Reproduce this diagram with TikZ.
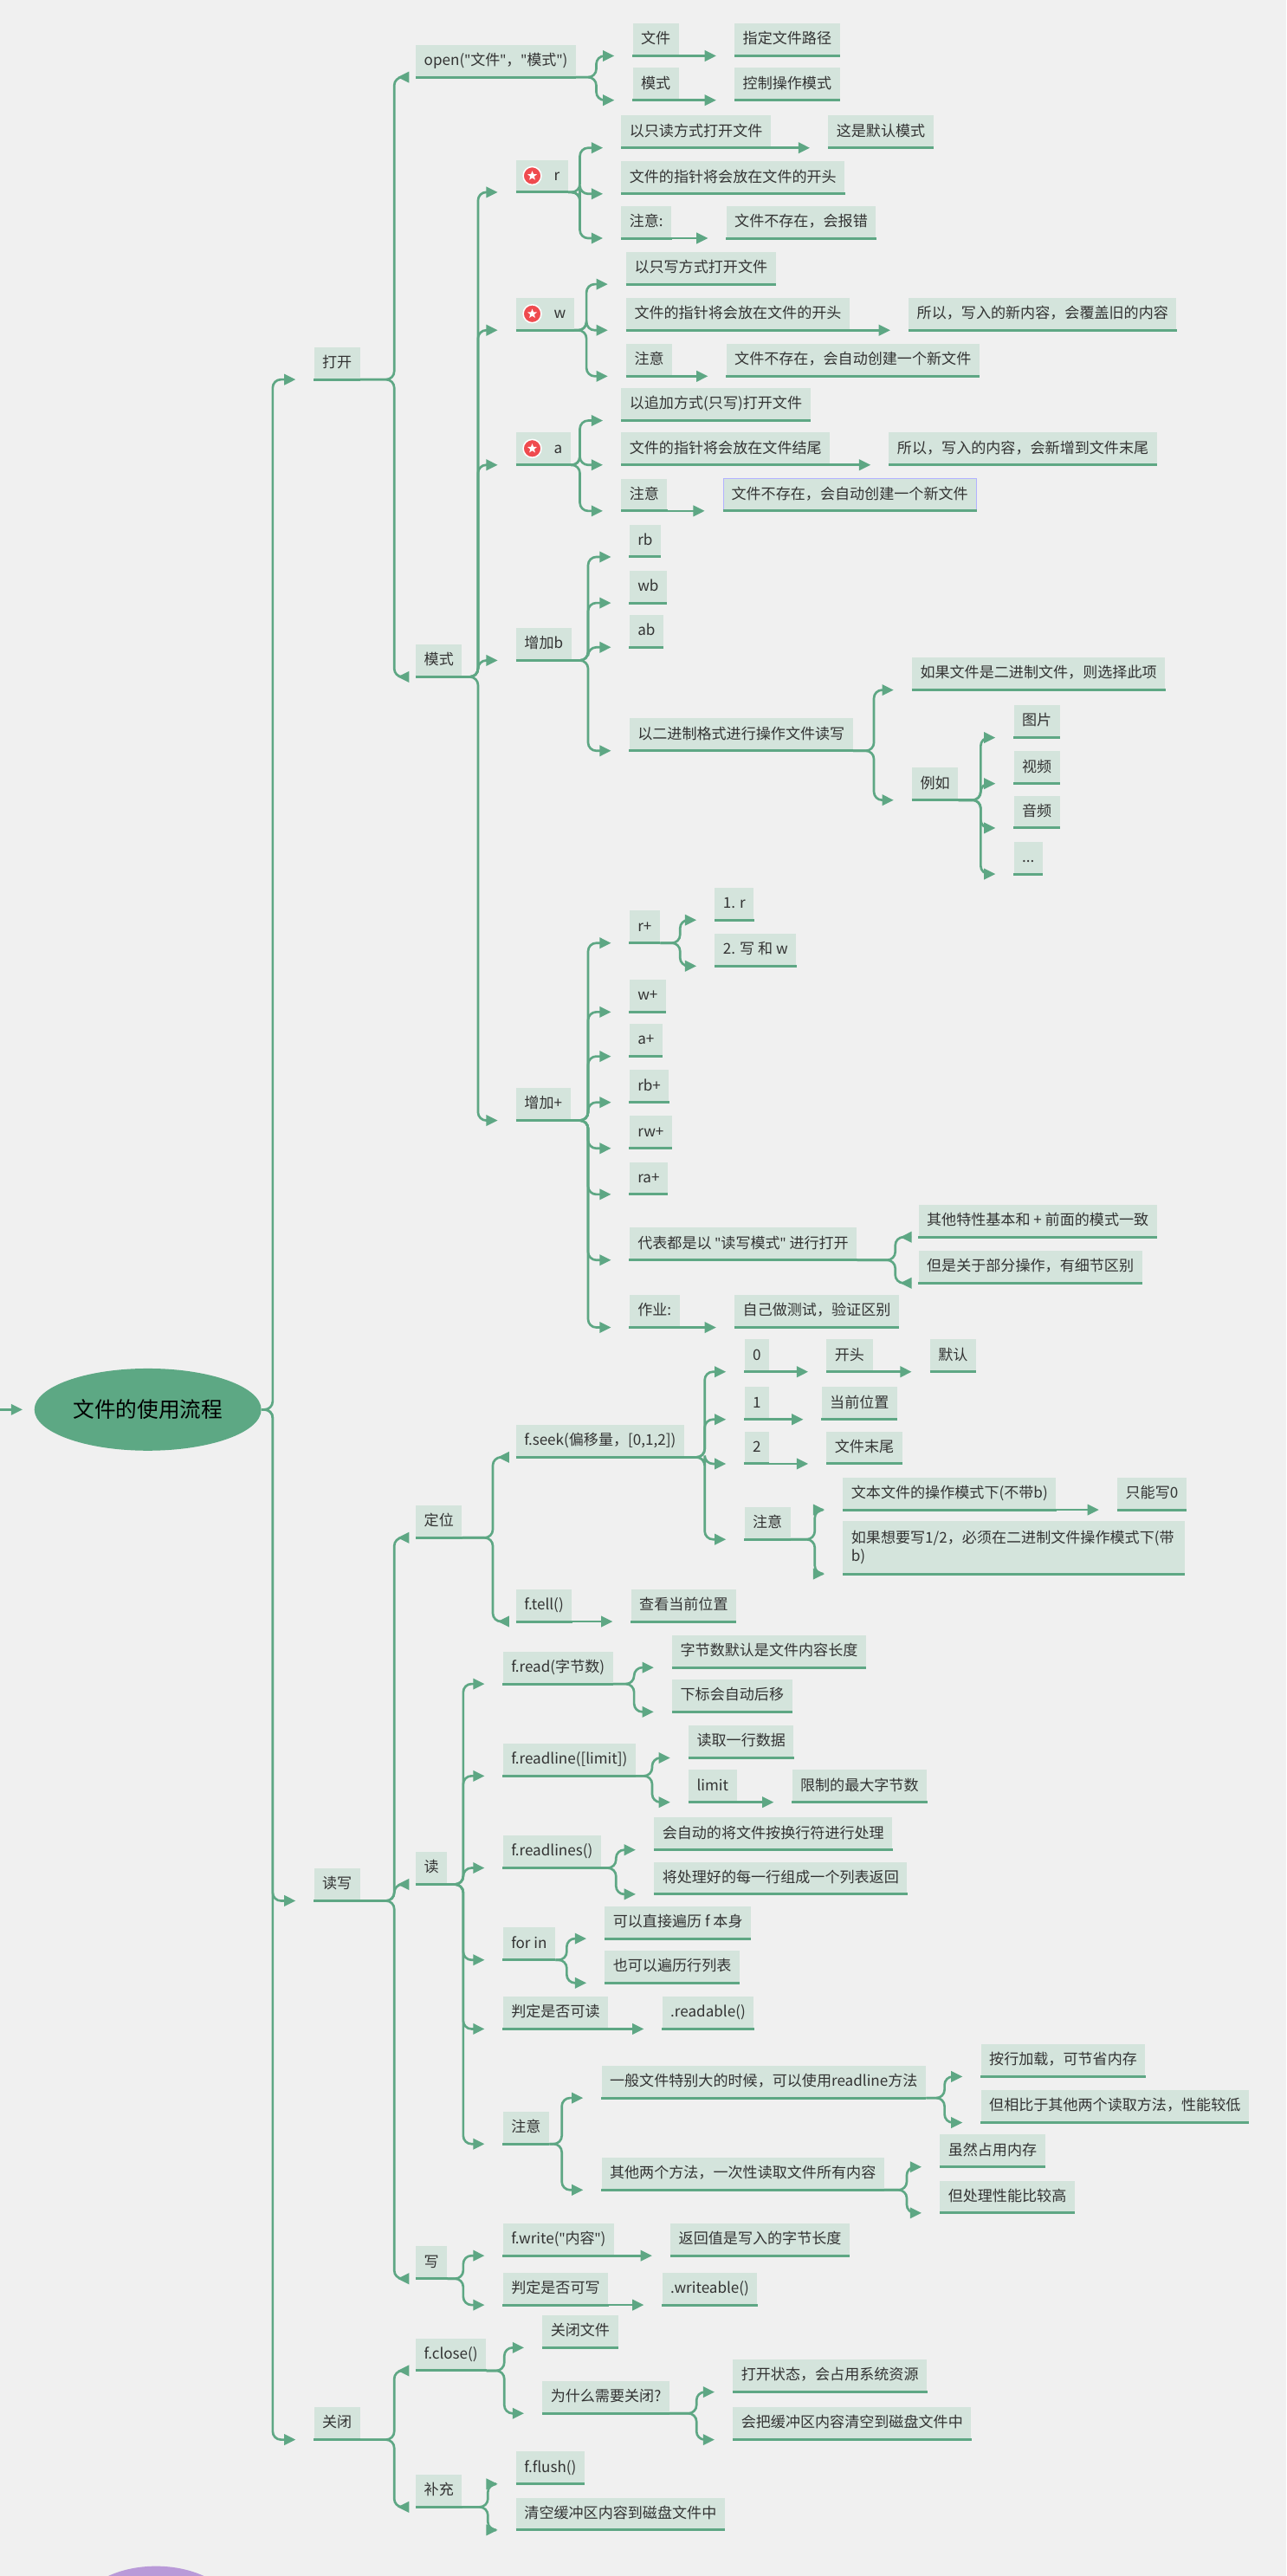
\documentclass[tikz,border=0pt]{standalone}
\usepackage{fontspec}
\setmainfont{Noto Sans CJK SC}
\newfontfamily\latinf{Noto Sans}
\newcommand\qt{{\latinf\symbol{34}}}
\usetikzlibrary{arrows.meta,positioning,shapes.geometric}
\definecolor{bgc}{HTML}{F0F0F0}
\definecolor{boxc}{HTML}{D4E4DC}
\definecolor{linec}{HTML}{5EA784}
\definecolor{rootc}{HTML}{5DA884}
\definecolor{starc}{HTML}{EF4B4F}
\definecolor{lilac}{HTML}{B99AD8}
\tikzset{
  box/.style={fill=boxc, anchor=south west, inner xsep=5pt, inner ysep=4.5pt,
    text height=8pt, text depth=2.5pt, font=\fontsize{9}{11}\selectfont, text=black!80,
    append after command={(\tikzlastnode.south west) edge[uline] (\tikzlastnode.south east)}},
  uline/.style={-, draw=linec, line width=1.6pt},
  link/.style={draw=linec, line width=1.4pt, rounded corners=5pt,
    -{Triangle[length=7pt,width=6.5pt]}},
  root/.style={ellipse, fill=rootc, minimum width=137pt, minimum height=50pt,
    font=\fontsize{13}{15}\selectfont, text=black},
}
% parent, child, x of the bus
\newcommand\branch[3]{\draw[link] (#1.south east) -- (#3,0 |- #1.south east) |- ([xshift=-11pt]#2.south west);}
% parent, single child on the same line
\newcommand\onward[2]{\draw[link] (#1.south east) -- ([xshift=-11pt]#2.south west |- #1.south east);}
% red star badge in front of a mode
\newcommand\badge[1]{\fill[starc, draw=white, line width=0.8pt] ([xshift=10pt,yshift=10pt]#1.south west) circle (5.5pt);
  \node[star, star points=5, star point ratio=2.3, fill=white, inner sep=0pt, minimum size=6pt]
    at ([xshift=10pt,yshift=10pt]#1.south west) {};}
\begin{document}
\begin{tikzpicture}[x=1pt, y=-1pt]
  \fill[bgc] (0,0) rectangle (783,1568);
  \useasboundingbox (0,0) rectangle (783,1568);
  \node[ellipse, fill=lilac, minimum width=100pt, minimum height=64pt] (next) at (95,1594) {};

  \node[root] (root) at (90,858) {文件的使用流程};
  \coordinate (entry) at (0,858);
  \draw[link] (entry) -- ([xshift=-7pt]root.west);

  % 打开
  \node[box] (kai)   at (191,231) {打开};
  \node[box] (openf) at (253,47)  {open(\qt 文件\qt，\qt 模式\qt)};
  \node[box] (fileA) at (385,34)  {文件};
  \node[box] (modeA) at (385,61)  {模式};
  \node[box] (pathA) at (447,34)  {指定文件路径};
  \node[box] (ctrlA) at (447,61)  {控制操作模式};
  \node[box] (modes) at (253,412) {模式};

  \node[box] (mr) at (314,117) {\hspace{16pt} r};
  \node[box] (mw) at (314,201) {\hspace{16pt} w};
  \node[box] (ma) at (314,283) {\hspace{16pt} a};
  \badge{mr} \badge{mw} \badge{ma}

  \node[box] (r1)  at (378,90)  {以只读方式打开文件};
  \node[box] (r2)  at (378,118) {文件的指针将会放在文件的开头};
  \node[box] (r3)  at (378,145) {注意:};
  \node[box] (r1a) at (504,90)  {这是默认模式};
  \node[box] (r3a) at (442,145) {文件不存在，会报错};

  \node[box] (w1)  at (381,173) {以只写方式打开文件};
  \node[box] (w2)  at (381,201) {文件的指针将会放在文件的开头};
  \node[box] (w3)  at (381,229) {注意};
  \node[box] (w2a) at (553,201) {所以，写入的新内容，会覆盖旧的内容};
  \node[box] (w3a) at (442,229) {文件不存在，会自动创建一个新文件};

  \node[box] (a1)  at (378,256) {以追加方式(只写)打开文件};
  \node[box] (a2)  at (378,283) {文件的指针将会放在文件结尾};
  \node[box] (a3)  at (378,311) {注意};
  \node[box] (a2a) at (541,283) {所以，写入的内容，会新增到文件末尾};
  \node[box, draw=blue!30, line width=0.6pt] (a3a) at (440,311) {文件不存在，会自动创建一个新文件};

  \node[box] (mb)   at (314,402) {增加b};
  \node[box] (rb)   at (383,339) {rb};
  \node[box] (wb)   at (383,367) {wb};
  \node[box] (ab)   at (383,394) {ab};
  \node[box] (bin)  at (383,457) {以二进制格式进行操作文件读写};
  \node[box] (binif) at (555,420) {如果文件是二进制文件，则选择此项};
  \node[box] (eg)   at (555,487) {例如};
  \node[box] (img)  at (617,449) {图片};
  \node[box] (vid)  at (617,477) {视频};
  \node[box] (aud)  at (617,504) {音频};
  \node[box] (dots) at (617,532) {...};

  \node[box] (mp)   at (314,682) {增加+};
  \node[box] (rp)   at (383,574) {r+};
  \node[box] (rp1)  at (435,560) {1. r};
  \node[box] (rp2)  at (435,588) {2. 写 和 w};
  \node[box] (wp)   at (383,616) {w+};
  \node[box] (ap)   at (383,643) {a+};
  \node[box] (rbp)  at (383,671) {rb+};
  \node[box] (rwp)  at (383,699) {rw+};
  \node[box] (rap)  at (383,727) {ra+};
  \node[box] (rwmode) at (383,767) {代表都是以 \qt 读写模式\qt{} 进行打开};
  \node[box] (same) at (559,753) {其他特性基本和 + 前面的模式一致};
  \node[box] (diff) at (559,781) {但是关于部分操作，有细节区别};
  \node[box] (hw)   at (383,808) {作业:};
  \node[box] (hwa)  at (447,808) {自己做测试，验证区别};

  % 读写
  \node[box] (rw)    at (191,1157) {读写};
  \node[box] (locate) at (253,936) {定位};
  \node[box] (seek)  at (314,887) {f.seek(偏移量，[0,1,2])};
  \node[box] (s0)    at (453,835) {0};
  \node[box] (s0a)   at (503,835) {开头};
  \node[box] (s0b)   at (566,835) {默认};
  \node[box] (s1)    at (453,864) {1};
  \node[box] (s1a)   at (500,864) {当前位置};
  \node[box] (s2)    at (453,891) {2};
  \node[box] (s2a)   at (503,891) {文件末尾};
  \node[box] (snote) at (453,937) {注意};
  \node[box] (sn1)   at (513,919) {文本文件的操作模式下(不带b)};
  \node[box] (sn1a)  at (680,919) {只能写0};
  \node[box, text width=198pt, align=left, text height=9pt, text depth=14pt] (sn2) at (513,958)
    {如果想要写1/2，必须在二进制文件操作模式下(带\\b)};
  \node[box] (tell)  at (314,987) {f.tell()};
  \node[box] (tella) at (384,987) {查看当前位置};

  \node[box] (read)  at (253,1147) {读};
  \node[box] (fread) at (306,1025) {f.read(字节数)};
  \node[box] (fr1)   at (409,1015) {字节数默认是文件内容长度};
  \node[box] (fr2)   at (409,1042) {下标会自动后移};
  \node[box] (frl)   at (306,1081) {f.readline([limit])};
  \node[box] (frl1)  at (419,1070) {读取一行数据};
  \node[box] (frl2)  at (419,1097) {limit};
  \node[box] (frl2a) at (482,1097) {限制的最大字节数};
  \node[box] (frls)  at (306,1137) {f.readlines()};
  \node[box] (frls1) at (398,1126) {会自动的将文件按换行符进行处理};
  \node[box] (frls2) at (398,1153) {将处理好的每一行组成一个列表返回};
  \node[box] (forin) at (306,1193) {for in};
  \node[box] (fi1)   at (368,1180) {可以直接遍历 f 本身};
  \node[box] (fi2)   at (368,1207) {也可以遍历行列表};
  \node[box] (canr)  at (306,1235) {判定是否可读};
  \node[box] (canra) at (403,1235) {.readable()};
  \node[box] (rnote) at (306,1305) {注意};
  \node[box] (big)   at (366,1277) {一般文件特别大的时候，可以使用readline方法};
  \node[box] (big1)  at (597,1264) {按行加载，可节省内存};
  \node[box] (big2)  at (597,1292) {但相比于其他两个读取方法，性能较低};
  \node[box] (other) at (366,1333) {其他两个方法，一次性读取文件所有内容};
  \node[box] (o1)    at (572,1319) {虽然占用内存};
  \node[box] (o2)    at (572,1347) {但处理性能比较高};

  \node[box] (write) at (253,1387) {写};
  \node[box] (fwrite) at (306,1373) {f.write(\qt 内容\qt)};
  \node[box] (fwa)   at (408,1373) {返回值是写入的字节长度};
  \node[box] (canw)  at (306,1403) {判定是否可写};
  \node[box] (canwa) at (403,1403) {.writeable()};

  % 关闭
  \node[box] (close)  at (191,1485) {关闭};
  \node[box] (fclose) at (253,1443) {f.close()};
  \node[box] (cl1)    at (330,1429) {关闭文件};
  \node[box] (why)    at (330,1469) {为什么需要关闭?};
  \node[box] (why1)   at (446,1456) {打开状态，会占用系统资源};
  \node[box] (why2)   at (446,1485) {会把缓冲区内容清空到磁盘文件中};
  \node[box] (extra)  at (253,1526) {补充};
  \node[box] (flush)  at (314,1512) {f.flush()};
  \node[box] (flush2) at (314,1540) {清空缓冲区内容到磁盘文件中};

  \foreach \c in {kai,rw,close}
    \draw[link] (root.east) -- (166,0 |- root.east) |- ([xshift=-11pt]\c.south west);

  \branch{kai}{openf}{240} \branch{kai}{modes}{240}
  \branch{openf}{fileA}{363} \branch{openf}{modeA}{363}
  \onward{fileA}{pathA} \onward{modeA}{ctrlA}
  \foreach \c in {mr,mw,ma,mb,mp} {\branch{modes}{\c}{291}}
  \foreach \c in {r1,r2,r3} {\branch{mr}{\c}{353}}
  \onward{r1}{r1a} \onward{r3}{r3a}
  \foreach \c in {w1,w2,w3} {\branch{mw}{\c}{357}}
  \onward{w2}{w2a} \onward{w3}{w3a}
  \foreach \c in {a1,a2,a3} {\branch{ma}{\c}{353}}
  \onward{a2}{a2a} \onward{a3}{a3a}
  \foreach \c in {rb,wb,ab,bin} {\branch{mb}{\c}{358}}
  \branch{bin}{binif}{532} \branch{bin}{eg}{532}
  \foreach \c in {img,vid,aud,dots} {\branch{eg}{\c}{597}}
  \foreach \c in {rp,wp,ap,rbp,rwp,rap,rwmode,hw} {\branch{mp}{\c}{358}}
  \branch{rp}{rp1}{414} \branch{rp}{rp2}{414}
  \branch{rwmode}{same}{545} \branch{rwmode}{diff}{545}
  \onward{hw}{hwa}

  \branch{rw}{locate}{240} \branch{rw}{read}{240} \branch{rw}{write}{240}
  \branch{locate}{seek}{300} \branch{locate}{tell}{300}
  \foreach \c in {s0,s1,s2,snote} {\branch{seek}{\c}{429}}
  \onward{s0}{s0a} \onward{s0a}{s0b}
  \onward{s1}{s1a} \onward{s2}{s2a}
  \branch{snote}{sn1}{496} \branch{snote}{sn2}{496}
  \onward{sn1}{sn1a} \onward{tell}{tella}
  \foreach \c in {fread,frl,frls,forin,canr,rnote} {\branch{read}{\c}{282}}
  \branch{fread}{fr1}{386} \branch{fread}{fr2}{386}
  \branch{frl}{frl1}{397} \branch{frl}{frl2}{397} \onward{frl2}{frl2a}
  \branch{frls}{frls1}{375} \branch{frls}{frls2}{375}
  \branch{forin}{fi1}{345} \branch{forin}{fi2}{345}
  \onward{canr}{canra}
  \branch{rnote}{big}{342} \branch{rnote}{other}{342}
  \branch{big}{big1}{575} \branch{big}{big2}{575}
  \branch{other}{o1}{552} \branch{other}{o2}{552}
  \branch{write}{fwrite}{282} \branch{write}{canw}{282}
  \onward{fwrite}{fwa} \onward{canw}{canwa}

  \branch{close}{fclose}{240} \branch{close}{extra}{240}
  \branch{fclose}{cl1}{307} \branch{fclose}{why}{307}
  \branch{why}{why1}{424} \branch{why}{why2}{424}
  \branch{extra}{flush}{297} \branch{extra}{flush2}{297}
\end{tikzpicture}
\end{document}
